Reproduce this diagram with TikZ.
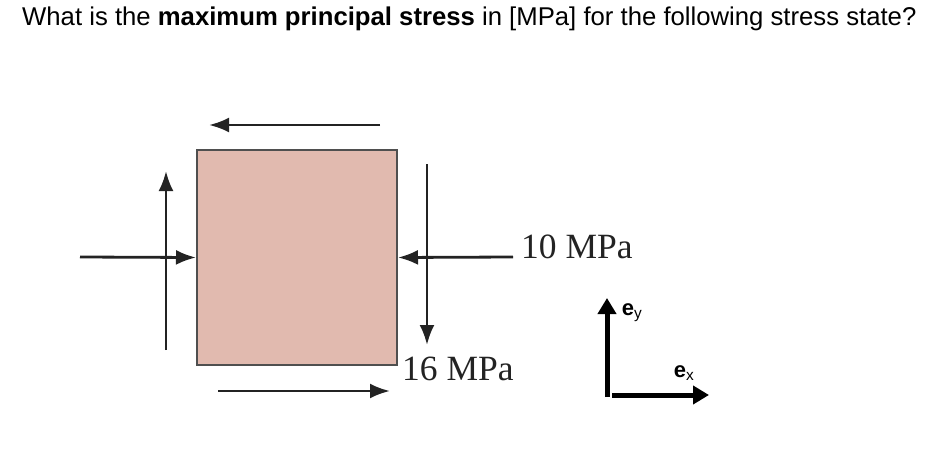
\documentclass[tikz,border=0pt]{standalone}
\usepackage{fontspec}
\usetikzlibrary{arrows.meta}
\setmainfont{Liberation Serif}
\newfontfamily\sans{Liberation Sans}
\definecolor{blockfill}{RGB}{225,186,175}
\definecolor{ink}{RGB}{35,35,35}
\begin{document}
\begin{tikzpicture}[x=1pt,y=-1pt,
  force/.style={draw=ink,line width=2.8pt,-{Latex[length=20pt,width=15pt]}},
  axis/.style={draw=black,line width=5pt,-{Triangle[length=16pt,width=18pt]}},
  lbl/.style={inner sep=0pt,anchor=west,font=\fontsize{35.5}{40}\selectfont,text=ink}]
\useasboundingbox (0,0) rectangle (938,458);
\node[anchor=west,inner sep=0pt,font=\sans\fontsize{25.7}{30}\selectfont] (title) at (22,19) {What is the \textbf{maximum principal stress} in [MPa] for the following stress state?};
\node[draw=ink!80,line width=2pt,fill=blockfill,minimum width=200pt,minimum height=215pt,inner sep=0pt] (sq) at (297,257.5) {};
\coordinate (t1) at (380,125); \coordinate (t2) at (209,125);
\draw[force] (t1) -- (t2);
\coordinate (l1) at (166,350); \coordinate (l2) at (166,171);
\draw[force] (l1) -- (l2);
\coordinate (h1) at (80,257);
\draw[force] (h1) -- (sq.west);
\coordinate (h2) at (513,257);
\draw[force] (h2) -- (sq.east);
\coordinate (r1) at (427,164); \coordinate (r2) at (427,345);
\draw[force] (r1) -- (r2);
\coordinate (b1) at (218,391); \coordinate (b2) at (390,391);
\draw[force] (b1) -- (b2);
\node[lbl] (ten) at (521,247) {10 MPa};
\node[lbl] (sixteen) at (402,369) {16 MPa};
\coordinate (o1) at (607,397); \coordinate (ey) at (607,298);
\draw[axis] (o1) -- (ey);
\coordinate (o2) at (612,395); \coordinate (ex) at (709,395);
\draw[axis] (o2) -- (ex);
\node[inner sep=0pt,font=\sans\bfseries\fontsize{22}{26}\selectfont] (eylbl) at (632,313) {e\textsubscript{\mdseries y}};
\node[inner sep=0pt,font=\sans\bfseries\fontsize{22}{26}\selectfont] (exlbl) at (684,373) {e\textsubscript{\mdseries x}};
\end{tikzpicture}
\end{document}
